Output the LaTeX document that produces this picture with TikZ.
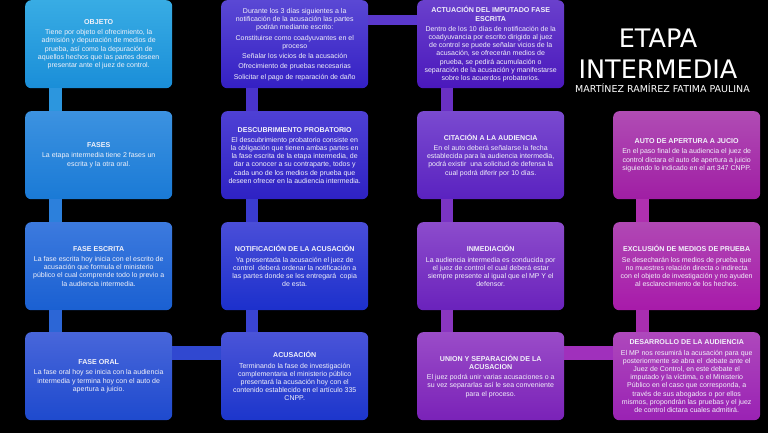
\documentclass[tikz,border=0pt]{standalone}
\usepackage{fontspec}
\setmainfont{Liberation Sans}
\newfontfamily\titlefont{DejaVu Sans}
\definecolor{txt}{HTML}{F2F2FA}
\definecolor{a11}{HTML}{38ACE4}\definecolor{b11}{HTML}{1A8ED8}
\definecolor{a12}{HTML}{3C92E0}\definecolor{b12}{HTML}{1A7AD6}
\definecolor{a13}{HTML}{3C7ADE}\definecolor{b13}{HTML}{1A60D2}
\definecolor{a14}{HTML}{4866DA}\definecolor{b14}{HTML}{1E4ACE}
\definecolor{a21}{HTML}{5A48D4}\definecolor{b21}{HTML}{3420C4}
\definecolor{a22}{HTML}{4E40D4}\definecolor{b22}{HTML}{2E22C4}
\definecolor{a23}{HTML}{4A4ED8}\definecolor{b23}{HTML}{1C30CC}
\definecolor{a24}{HTML}{4A54D8}\definecolor{b24}{HTML}{1C36CC}
\definecolor{a31}{HTML}{6A40CC}\definecolor{b31}{HTML}{4A18BC}
\definecolor{a32}{HTML}{7A4AD0}\definecolor{b32}{HTML}{5A22C0}
\definecolor{a33}{HTML}{8C4CCC}\definecolor{b33}{HTML}{6A22BC}
\definecolor{a34}{HTML}{9A4CC8}\definecolor{b34}{HTML}{7A22B8}
\definecolor{a41}{HTML}{B04CB4}\definecolor{b41}{HTML}{A01EA4}
\definecolor{a42}{HTML}{B048B4}\definecolor{b42}{HTML}{A81AAA}
\definecolor{a43}{HTML}{AE48BC}\definecolor{b43}{HTML}{9A22B4}
\definecolor{v11}{HTML}{2C96DE}\definecolor{v12}{HTML}{2C80DC}\definecolor{v13}{HTML}{2C66D6}
\definecolor{v21}{HTML}{4A34CC}\definecolor{v22}{HTML}{3A3CD0}\definecolor{v23}{HTML}{3A44D4}
\definecolor{v31}{HTML}{6A30C4}\definecolor{v32}{HTML}{7A34C4}\definecolor{v33}{HTML}{8A36C0}
\definecolor{v41}{HTML}{B030B0}\definecolor{v42}{HTML}{A82EB0}
\definecolor{h1}{HTML}{3048D0}\definecolor{h2}{HTML}{5A38CC}\definecolor{h3}{HTML}{A030BC}
\tikzset{
  box/.style={rounded corners=6pt, minimum width=147pt, minimum height=88pt,
    inner sep=0pt, align=center, text=txt, anchor=north west,
    font=\fontsize{7}{8.2}\selectfont},
  bar/.style={draw=none}
}
\newcommand{\hdr}[1]{{\bfseries\fontsize{7.1}{8.2}\selectfont #1}}
\begin{document}
\begin{tikzpicture}[x=1pt,y=-1pt]
\fill[black] (0,0) rectangle (768,433);
\useasboundingbox (0,0) rectangle (768,433);
% column 1
\node[box, top color=a11, bottom color=b11] (c11) at (25,0) {\hdr{OBJETO}\\[2pt]
Tiene por objeto el ofrecimiento, la\\ admisión y depuración de medios de\\ prueba, así como la depuración de\\ aquellos hechos que las partes deseen\\ presentar ante el juez de control.};
\node[box, top color=a12, bottom color=b12] (c12) at (25,111) {\hdr{FASES}\\[2pt]
La etapa intermedia tiene 2 fases un\\ escrita y la otra oral.};
\node[box, top color=a13, bottom color=b13] (c13) at (25,222) {\hdr{FASE ESCRITA}\\[2pt]
La fase escrita hoy inicia con el escrito de\\ acusación que formula el ministerio\\ público el cual comprende todo lo previo a\\ la audiencia intermedia.};
\node[box, top color=a14, bottom color=b14] (c14) at (25,332) {\hdr{FASE ORAL}\\[2pt]
La fase oral hoy se inicia con la audiencia\\ intermedia y termina hoy con el auto de\\ apertura a juicio.};
% column 2
\node[box, top color=a21, bottom color=b21] (c21) at (221,0) {Durante los 3 días siguientes a la\\ notificación de la acusación las partes\\ podrán mediante escrito:\\[2.5pt]
Constituirse como coadyuvantes en el\\ proceso\\[2pt] Señalar los vicios de la acusación\\[2pt] Ofrecimiento de pruebas necesarias\\[2pt] Solicitar el pago de reparación de daño};
\node[box, top color=a22, bottom color=b22] (c22) at (221,111) {\hdr{DESCUBRIMIENTO PROBATORIO}\\[2pt]
El descubrimiento probatorio consiste en\\ la obligación que tienen ambas partes en\\ la fase escrita de la etapa intermedia, de\\ dar a conocer a su contraparte, todos y\\ cada uno de los medios de prueba que\\ deseen ofrecer en la audiencia intermedia.};
\node[box, top color=a23, bottom color=b23] (c23) at (221,222) {\hdr{NOTIFICACIÓN DE LA ACUSACIÓN}\\[2pt]
Ya presentada la acusación el juez de\\ control\ \ deberá ordenar la notificación a\\ las partes donde se les entregará\ \ copia\\ de esta.};
\node[box, top color=a24, bottom color=b24] (c24) at (221,332) {\hdr{ACUSACIÓN}\\[2pt]
Terminando la fase de investigación\\ complementaria el ministerio público\\ presentará la acusación hoy con el\\ contenido establecido en el artículo 335\\ CNPP.};
% column 3
\node[box, top color=a31, bottom color=b31] (c31) at (417,0) {\hdr{ACTUACIÓN DEL IMPUTADO FASE}\\ \hdr{ESCRITA}\\[2pt]
Dentro de los 10 días de notificación de la\\ coadyuvancia por escrito dirigido al juez\\ de control se puede señalar vicios de la\\ acusación, se ofrecerán medios de\\ prueba, se pedirá acumulación o\\ separación de la acusación y manifestarse\\ sobre los acuerdos probatorios.};
\node[box, top color=a32, bottom color=b32] (c32) at (417,111) {\hdr{CITACIÓN A LA AUDIENCIA}\\[2pt]
En el auto deberá señalarse la fecha\\ establecida para la audiencia intermedia,\\ podrá existir\ \ una solicitud de defensa la\\ cual podrá diferir por 10 días.};
\node[box, top color=a33, bottom color=b33] (c33) at (417,222) {\hdr{INMEDIACIÓN}\\[2pt]
La audiencia intermedia es conducida por\\ el juez de control el cual deberá estar\\ siempre presente al igual que el MP Y el\\ defensor.};
\node[box, top color=a34, bottom color=b34] (c34) at (417,332) {\hdr{UNION Y SEPARACIÓN DE LA}\\ \hdr{ACUSACION}\\[2pt]
El juez podrá unir varias acusaciones o a\\ su vez separarlas así le sea conveniente\\ para el proceso.};
% column 4
\node[box, top color=a41, bottom color=b41] (c41) at (613,111) {\hdr{AUTO DE APERTURA A JUCIO}\\[2pt]
En el paso final de la audiencia el juez de\\ control dictara el auto de apertura a juicio\\ siguiendo lo indicado en el art 347 CNPP.};
\node[box, top color=a42, bottom color=b42] (c42) at (613,222) {\hdr{EXCLUSIÓN DE MEDIOS DE PRUEBA}\\[2pt]
Se desecharán los medios de prueba que\\ no muestres relación directa o indirecta\\ con el objeto de investigación y no ayuden\\ al esclarecimiento de los hechos.};
\node[box, top color=a43, bottom color=b43] (c43) at (613,332) {\hdr{DESARROLLO DE LA AUDIENCIA}\\[2pt]
El MP nos resumirá la acusación para que\\ posteriormente se abra el\ \ debate ante el\\ Juez de Control, en este debate el\\ imputado y la víctima, o el Ministerio\\ Público en el caso que corresponda, a\\ través de sus abogados o por ellos\\ mismos, propondrán las pruebas y el juez\\ de control dictara cuales admitirá.};
% vertical connectors
\fill[bar, v11] ([xshift=24pt]c11.south west) rectangle ([xshift=37pt]c12.north west);
\fill[bar, v12] ([xshift=24pt]c12.south west) rectangle ([xshift=37pt]c13.north west);
\fill[bar, v13] ([xshift=24pt]c13.south west) rectangle ([xshift=37pt]c14.north west);
\fill[bar, v21] ([xshift=25pt]c21.south west) rectangle ([xshift=37pt]c22.north west);
\fill[bar, v22] ([xshift=25pt]c22.south west) rectangle ([xshift=37pt]c23.north west);
\fill[bar, v23] ([xshift=25pt]c23.south west) rectangle ([xshift=37pt]c24.north west);
\fill[bar, v31] ([xshift=24pt]c31.south west) rectangle ([xshift=36pt]c32.north west);
\fill[bar, v32] ([xshift=24pt]c32.south west) rectangle ([xshift=36pt]c33.north west);
\fill[bar, v33] ([xshift=24pt]c33.south west) rectangle ([xshift=36pt]c34.north west);
\fill[bar, v41] ([xshift=23pt]c41.south west) rectangle ([xshift=36pt]c42.north west);
\fill[bar, v42] ([xshift=23pt]c42.south west) rectangle ([xshift=36pt]c43.north west);
% horizontal connectors
\fill[bar, h1] ([yshift=-14pt]c14.north east) rectangle ([yshift=-28pt]c24.north west);
\fill[bar, h2] ([yshift=-15pt]c21.north east) rectangle ([yshift=-25pt]c31.north west);
\fill[bar, h3] ([yshift=-14pt]c34.north east) rectangle ([yshift=-28pt]c43.north west);
% title
\node[anchor=base, text=white, font=\titlefont\fontsize{25.5}{30}\selectfont, inner sep=0pt] (t1) at (658,48) {ETAPA};
\node[anchor=base, text=white, font=\titlefont\fontsize{25.5}{30}\selectfont, inner sep=0pt] (t2) at (658,79) {INTERMEDIA};
\node[anchor=base, text=white, font=\titlefont\fontsize{9.5}{11}\selectfont, inner sep=0pt] (t3) at (662.5,93) {MARTÍNEZ RAMÍREZ FATIMA PAULINA};
\end{tikzpicture}
\end{document}
